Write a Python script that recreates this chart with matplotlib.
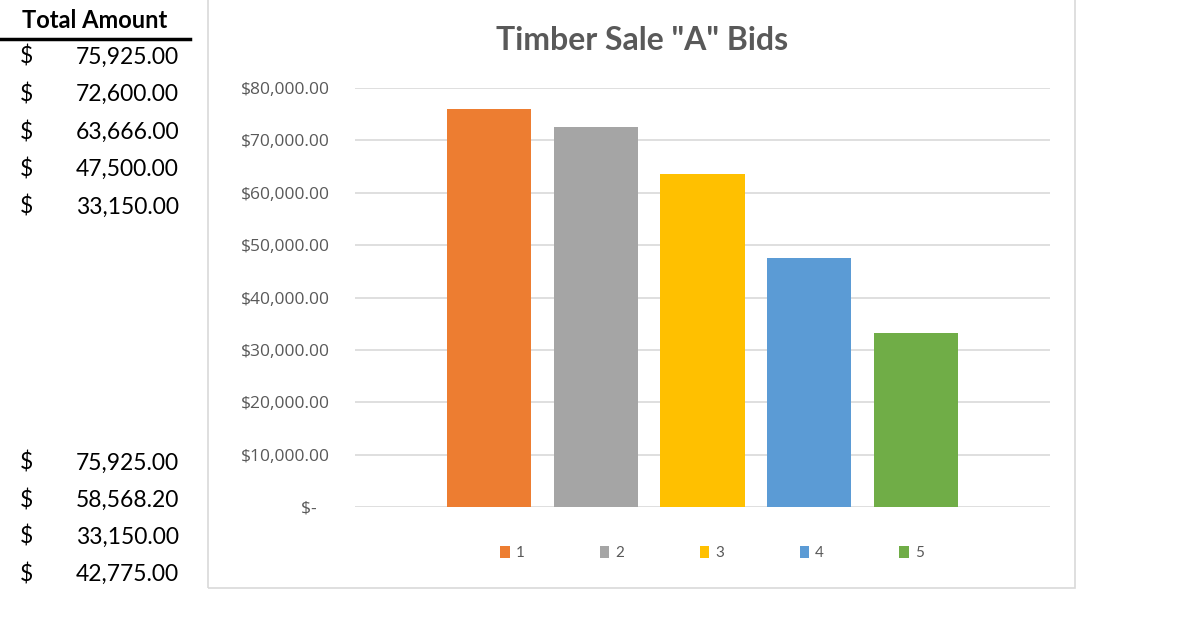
import matplotlib.pyplot as plt
from matplotlib.patches import Rectangle
from matplotlib.ticker import FuncFormatter, MultipleLocator

# data
bidders = ['1', '2', '3', '4', '5']
bids = [75925.00, 72600.00, 63666.00, 47500.00, 33150.00]
bar_colors = ['#ED7D31', '#A5A5A5', '#FFC000', '#5B9BD5', '#70AD47']
table_top = ['75,925.00', '72,600.00', '63,666.00', '47,500.00', '33,150.00']
table_bottom = ['75,925.00', '58,568.20', '33,150.00', '42,775.00']

W, H = 1200, 630
plt.rcParams['font.family'] = ['Lato', 'DejaVu Sans']

def fx(px):
    return px / W

def fy(py):
    return 1 - py / H

fig = plt.figure(figsize=(12, 6.3), dpi=100)

# chart frame
fig.patches.append(Rectangle((fx(208), fy(588)), fx(1075) - fx(208), fy(-10) - fy(588),
                             transform=fig.transFigure, fill=False,
                             edgecolor='#D9D9D9', lw=1.2))

ax = fig.add_axes([fx(355), fy(507), fx(1050) - fx(355), fy(88) - fy(507)])
x = range(len(bids))
bars = ax.bar(x, bids, width=0.79, color=bar_colors, zorder=3)
ax.set_xlim(-1.256, len(bids) - 1 + 1.256)
ax.set_ylim(0, 80000)
ax.yaxis.set_major_locator(MultipleLocator(10000))

def money(v, pos):
    if v == 0:
        return '$-   '
    return '${:,.2f}'.format(v)

ax.yaxis.set_major_formatter(FuncFormatter(money))
ax.tick_params(axis='y', length=0, pad=18, labelsize=12.5, labelcolor='#595959',
               labelfontfamily='Open Sans')
ax.set_xticks([])
ax.grid(axis='y', color='#D9D9D9', lw=1.2, zorder=0)
for s in ax.spines.values():
    s.set_visible(False)

fig.text(fx(642), fy(40), 'Timber Sale "A" Bids', ha='center', va='center',
         fontsize=23, fontweight='bold', color='#595959')

leg = fig.legend(bars, bidders, loc='center', bbox_to_anchor=(fx(712), fy(553)),
                 ncol=5, frameon=False, fontsize=11, handlelength=0.6,
                 handleheight=0.9, handletextpad=0.4, columnspacing=4.95)
for t in leg.get_texts():
    t.set_color('#595959')

# the worksheet table beside the chart
fig.text(fx(95), fy(20), 'Total Amount', ha='center', va='center',
         fontsize=17, fontweight='bold', color='black')
fig.add_artist(plt.Line2D([0, fx(190)], [fy(39), fy(39)], color='black', lw=2.5))
for i, v in enumerate(table_top):
    yy = fy(57 + i * 37.5)
    fig.text(fx(20), yy, '$', ha='left', va='center', fontsize=16.5)
    fig.text(fx(179), yy, v, ha='right', va='center', fontsize=16.5)
for i, v in enumerate(table_bottom):
    yy = fy(463 + i * 37)
    fig.text(fx(20), yy, '$', ha='left', va='center', fontsize=16.5)
    fig.text(fx(179), yy, v, ha='right', va='center', fontsize=16.5)

fig.savefig('out.png', dpi=100)
